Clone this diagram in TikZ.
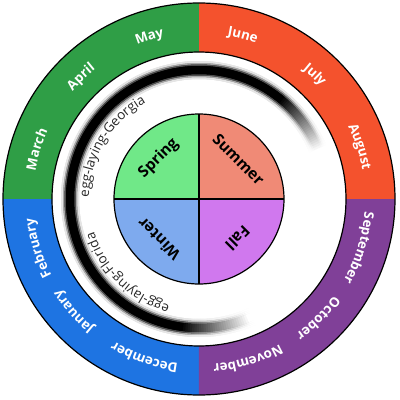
\documentclass[tikz,border=0pt]{standalone}
\usepackage{fontspec}
\usepackage{tikz}
\usetikzlibrary{decorations.text}
\newfontfamily\rodafont{Open Sans}
\definecolor{RodaVerde}{RGB}{47,158,70}
\definecolor{RodaLaranja}{RGB}{244,82,45}
\definecolor{RodaRoxo}{RGB}{128,64,152}
\definecolor{RodaAzul}{RGB}{30,116,226}
\definecolor{RodaVerdeClaro}{RGB}{112,232,136}
\definecolor{RodaSalmao}{RGB}{240,138,118}
\definecolor{RodaLilas}{RGB}{208,120,238}
\definecolor{RodaAzulClaro}{RGB}{126,170,238}
\definecolor{RodaTexto}{RGB}{40,40,40}
\tikzset{
  contorno/.style={draw=black, line width=0.3mm},
  mes/.style={decorate, decoration={text along path, text align=center, text color=white,
      text={|\rodafont\bfseries\fontsize{9.5}{11}\selectfont|#1}}},
  postura/.style={decorate, decoration={text along path, text align=center, text color=RodaTexto,
      text={|\rodafont\fontsize{9.5}{11}\selectfont|#1}}},
  estacao/.style={font=\rodafont\bfseries\fontsize{11}{13}\selectfont, text=black, inner sep=0pt},
}

\begin{document}
\begin{tikzpicture}[x=0.25mm, y=0.25mm]
  % Moldura
  \fill[white] (-199,-201) rectangle (201,199);
  \useasboundingbox (-199,-201) rectangle (201,199);

  % Anel dos meses
  \fill[RodaLaranja] (0:196) arc[start angle=0, end angle=90, radius=196]
    -- (90:147) arc[start angle=90, end angle=0, radius=147] -- cycle;
  \fill[RodaVerde] (90:196) arc[start angle=90, end angle=180, radius=196]
    -- (180:147) arc[start angle=180, end angle=90, radius=147] -- cycle;
  \fill[RodaAzul] (180:196) arc[start angle=180, end angle=270, radius=196]
    -- (270:147) arc[start angle=270, end angle=180, radius=147] -- cycle;
  \fill[RodaRoxo] (270:196) arc[start angle=270, end angle=360, radius=196]
    -- (360:147) arc[start angle=360, end angle=270, radius=147] -- cycle;
  \draw[contorno] (0,0) circle[radius=196];
  \draw[contorno] (0,0) circle[radius=147];

  % Sombra do anel interno
  \foreach \w/\p in {18/10, 14/35, 11/70, 8/100}{
    \foreach \a in {20,21,...,292}{
      \pgfmathsetmacro{\fator}{max(0,min(1,(\a-22)/28,(292-\a)/30))}
      \pgfmathsetmacro{\tom}{\p*\fator}
      \draw[line width=\w*0.25mm, black!\tom!white] (\a:129) arc[start angle=\a, end angle=\a+3, radius=129];
    }
  }

  % Circulo das estacoes
  \fill[RodaSalmao] (0,0) -- (0:85) arc[start angle=0, end angle=90, radius=85] -- cycle;
  \fill[RodaVerdeClaro] (0,0) -- (90:85) arc[start angle=90, end angle=180, radius=85] -- cycle;
  \fill[RodaAzulClaro] (0,0) -- (180:85) arc[start angle=180, end angle=270, radius=85] -- cycle;
  \fill[RodaLilas] (0,0) -- (270:85) arc[start angle=270, end angle=360, radius=85] -- cycle;
  \draw[contorno] (-85,0) -- (85,0);
  \draw[contorno] (0,-85) -- (0,85);
  \draw[contorno] (0,0) circle[radius=85];

  \node[estacao, rotate=45] (primavera) at (135:57) {Spring};
  \node[estacao, rotate=-45] (verao) at (45:56) {Summer};
  \node[estacao, rotate=-135] (outono) at (-45:55) {Fall};
  \node[estacao, rotate=135] (inverno) at (225:57) {Winter};

  % Postura
  \path[postura=egg-laying-Georgia] (209:110) arc[start angle=209, end angle=89, radius=110];
  \path[postura=egg-laying-Florida] (286:110) arc[start angle=286, end angle=166, radius=110];

  % Meses
  \path[mes=March] (193:166) arc[start angle=193, end angle=133, radius=166];
  \path[mes=April] (164:166) arc[start angle=164, end angle=104, radius=166];
  \path[mes=May] (137:166) arc[start angle=137, end angle=77, radius=166];
  \path[mes=June] (105:166) arc[start angle=105, end angle=45, radius=166];
  \path[mes=July] (77:166) arc[start angle=77, end angle=17, radius=166];
  \path[mes=August] (48:166) arc[start angle=48, end angle=-12, radius=166];
  \path[mes=September] (373:166) arc[start angle=373, end angle=313, radius=166];
  \path[mes=October] (345:166) arc[start angle=345, end angle=285, radius=166];
  \path[mes=November] (317:166) arc[start angle=317, end angle=257, radius=166];
  \path[mes=December] (281:166) arc[start angle=281, end angle=221, radius=166];
  \path[mes=January] (252:166) arc[start angle=252, end angle=192, radius=166];
  \path[mes=February] (227:166) arc[start angle=227, end angle=167, radius=166];
\end{tikzpicture}
\end{document}
